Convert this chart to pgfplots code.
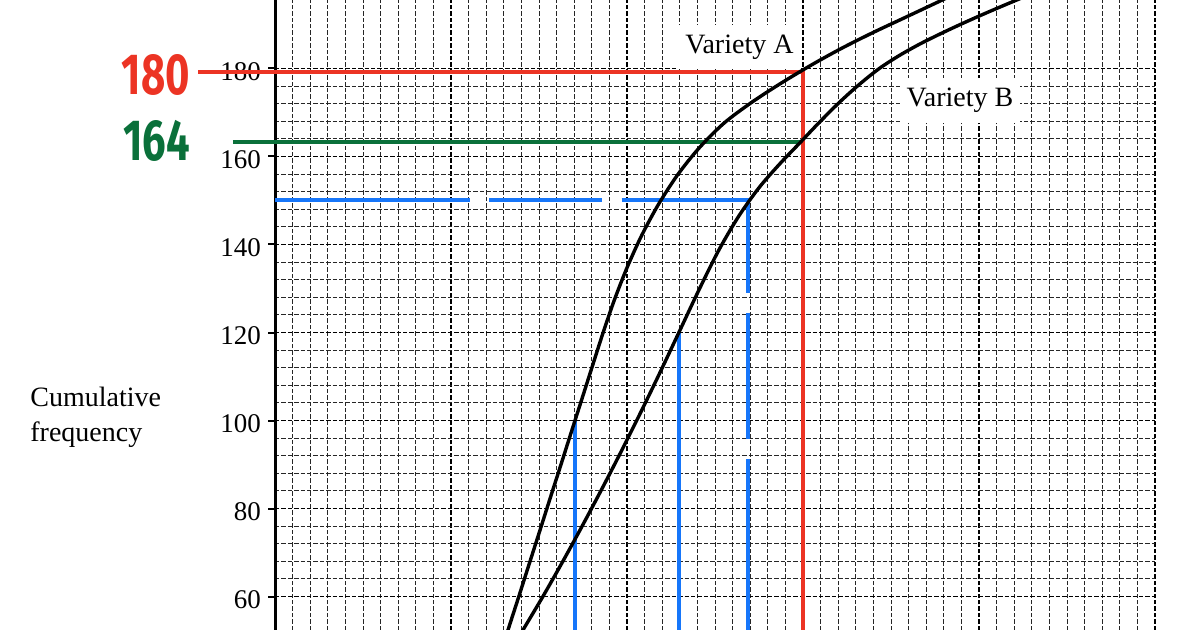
\documentclass[border=0pt]{standalone}
\usepackage{fontspec}
\setmainfont{Liberation Serif}
\newfontfamily\handfont{Fira Sans}
\usepackage{graphicx}
\usepackage{pgfplots}
\pgfplotsset{compat=1.18}
\definecolor{annred}{RGB}{236,52,36}
\definecolor{anngreen}{RGB}{10,112,58}
\definecolor{annblue}{RGB}{22,118,250}

\begin{document}
\begin{tikzpicture}[x=1pt,y=1pt]
\useasboundingbox (0,0) rectangle (600,315);
\begin{axis}[
  at={(137.5pt,0pt)}, anchor=south west,
  scale only axis, width=440pt, height=315pt,
  xmin=0, xmax=50, ymin=52.39, ymax=195.57,
  clip=false,
  separate axis lines,
  axis x line*=bottom, x axis line style={draw=none},
  axis y line*=left, y axis line style={line width=1.5pt, -},
  xtick={0,10,...,50}, minor x tick num=9, xticklabels={},
  x tick style={draw=none},
  ytick={60,80,...,180}, minor y tick num=4,
  y tick style={line width=1pt, black},
  minor y tick style={draw=none},
  tick align=outside, major tick length=3.5pt,
  grid=both,
  major grid style={black, line width=0.7pt, dash pattern=on 2.2pt off 1pt},
  minor grid style={black!85, line width=0.5pt, dash pattern=on 2.2pt off 1pt},
  yticklabel style={font=\fontsize{13.5}{16}\selectfont, yshift=-1.5pt},
  /pgf/number format/assume math mode=true,
]
% reading lines drawn on the graph
\addplot[anngreen, line width=1.6pt] coordinates {(-2.39,163.3) (30,163.3)};
\addplot[annred, line width=1.6pt] coordinates {(-4.375,179.2) (30,179.2) (30,50)};
\addplot[annblue, line width=2pt] coordinates {(0,150) (11.08,150)};
\addplot[annblue, line width=2pt] coordinates {(12.16,150) (18.6,150)};
\addplot[annblue, line width=2pt] coordinates {(19.7,150) (26.9,150) (26.9,129.0)};
\addplot[annblue, line width=2pt] coordinates {(26.9,124.5) (26.9,95.7)};
\addplot[annblue, line width=2pt] coordinates {(26.9,91.2) (26.9,50)};
\addplot[annblue, line width=2pt] coordinates {(17.05,100) (17.05,50)};
\addplot[annblue, line width=2pt] coordinates {(22.95,120) (22.95,50)};

% variety A
\addplot[black, line width=1.7pt, smooth, tension=0.5] coordinates {
  (12.636,44.8) (13.239,52.39) (13.841,59.85) (14.438,67.34) (15.040,74.86)
  (15.636,82.36) (16.239,89.87) (16.835,97.37) (17.438,104.90) (18.034,112.38)
  (18.636,119.88) (19.284,127.41) (20.011,134.82) (20.835,142.07) (21.778,149.05)
  (22.858,155.74) (24.102,161.95) (25.506,167.56) (27.097,172.34) (28.761,176.68)
  (30.466,180.77) (32.210,184.62) (33.989,188.19) (35.790,191.57) (37.591,194.96)
  (39.392,198.35)};
% variety B
\addplot[black, line width=1.7pt, smooth, tension=0.5] coordinates {
  (12.983,44.78) (14.091,52.39) (15.199,59.85) (16.307,67.65) (17.415,75.73)
  (18.523,84.07) (19.631,92.66) (20.739,101.53) (21.847,110.67) (22.955,120.06)
  (24.091,129.70) (25.227,138.80) (26.364,146.53) (27.500,152.90) (28.636,158.13)
  (29.773,162.90) (30.909,167.68) (32.045,172.22) (33.182,176.32) (34.318,179.95)
  (35.455,182.91) (36.591,185.46) (37.727,187.73) (38.864,189.87) (40.0,191.91)
  (41.136,193.87) (42.273,195.78) (43.409,197.60)};

\node[fill=white, anchor=base, inner xsep=3.5pt, inner ysep=5pt,
  font=\fontsize{14}{16}\selectfont] at (axis cs:26.39,183.5) {Variety A};
\node[fill=white, anchor=base, inner xsep=3.5pt, inner ysep=5pt,
  font=\fontsize{14}{16}\selectfont] at (axis cs:38.92,171.3) {Variety B};
\end{axis}

\node[anchor=base west, inner sep=0pt, font=\fontsize{14}{16}\selectfont]
  at (15,111.65) {Cumulative};
\node[anchor=base west, inner sep=0pt, font=\fontsize{14}{16}\selectfont]
  at (15,94.15) {frequency};

\node[annred] at (78,277.5)
  {\scalebox{0.72}[1]{\handfont\bfseries\fontsize{29}{30}\selectfont 180}};
\node[anngreen] at (78.25,244.5)
  {\scalebox{0.72}[1]{\handfont\bfseries\fontsize{29}{30}\selectfont 164}};
\end{tikzpicture}
\end{document}
